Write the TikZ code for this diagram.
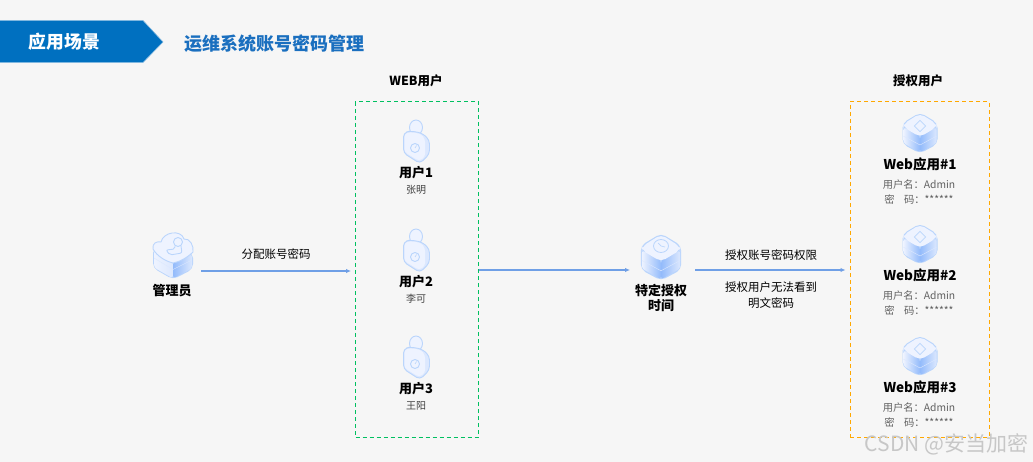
\documentclass[tikz,border=0pt]{standalone}
\usepackage{fontspec}
\usepackage{xcolor}
\setmainfont{Noto Sans CJK SC}
\usetikzlibrary{arrows.meta}

\definecolor{bannerblue}{HTML}{0070C0}
\definecolor{titleblue}{HTML}{1A6FBF}
\definecolor{iconedge}{HTML}{BAD5FC}
\definecolor{iconlight}{HTML}{EEF3FF}
\definecolor{iconmid}{HTML}{DCE8FE}
\definecolor{icondeep}{HTML}{93BBFB}
\definecolor{linkblue}{HTML}{6F9FE6}
\definecolor{webgreen}{HTML}{00C060}
\definecolor{authorange}{HTML}{FFA800}

\tikzset{
  link/.style={draw=linkblue, line width=1.1pt, -{Latex[length=5pt,width=4.5pt]}},
  framebox/.style={dash pattern=on 4pt off 3pt, line width=1pt, minimum width=123pt, minimum height=335pt, inner sep=0pt},
  heading/.style={font=\fontsize{12.5}{15}\selectfont\bfseries, text=black},
  itemname/.style={font=\fontsize{13}{15.5}\selectfont\bfseries, text=black, align=center},
  itemnote/.style={font=\fontsize{10}{12}\selectfont, text=black!75},
  linktext/.style={font=\fontsize{11.5}{16}\selectfont, text=black, align=center},
  appnote/.style={font=\fontsize{10.3}{12}\selectfont, text=black!62},
  userbody/.pic={
    \fill[iconlight, draw=iconedge, line width=0.9pt] (0,-15.5) ellipse (6.5 and 7.5);
    \fill[iconmid, draw=iconedge, line width=0.9pt, rounded corners=4pt]
      (-12.5,-10) -- (-6,-12) -- (6,-10) -- (13.5,-3) -- (13.5,11) -- (4,20.5) -- (-12.5,10) -- cycle;
    \fill[iconlight, rounded corners=3pt]
      (-11.5,-9) -- (-6,-11) -- (5,-9) -- (9,-4) -- (9,14) -- (3,18) -- (-11.5,9) -- cycle;
    \draw[iconedge, line width=0.9pt] (-1,5) circle (4.5);
    \draw[iconedge, line width=0.6pt] (-1,5) -- (0.5,2.5);
  },
  cubebody/.pic={
    \fill[iconedge, rounded corners=5pt] (0,-20.5) -- (17.5,-10) -- (17.5,11) -- (0,20.5) -- (-17.5,11) -- (-17.5,-10) -- cycle;
    \shade[left color=iconlight, right color=icondeep, rounded corners=3pt] (-16.7,-6) -- (0,3) -- (0,19.5) -- (-16.7,10) -- cycle;
    \shade[left color=icondeep, right color=iconmid, rounded corners=3pt] (0,3) -- (16.7,-6) -- (16.7,10) -- (0,19.5) -- cycle;
    \fill[iconlight, rounded corners=5pt] (0,-19.5) -- (16.7,-9) -- (16.7,-6) -- (0,4) -- (-16.7,-6) -- (-16.7,-9) -- cycle;
    \draw[iconmid, line width=0.4pt] (-16.7,3) -- (0,12) -- (16.7,3);
  },
  cloudbody/.pic={
    \fill[iconedge, rounded corners=5pt] (-20,-8) -- (-20,12) -- (0,23.5) -- (20,13) -- (20,-3) -- cycle;
    \shade[left color=iconlight, right color=iconmid, rounded corners=3pt] (-19,-6) -- (0,6) -- (0,22.5) -- (-19,11.5) -- cycle;
    \shade[left color=icondeep, right color=iconmid, rounded corners=3pt] (0,6) -- (19,-2) -- (19,12.5) -- (0,22.5) -- cycle;
    \draw[iconmid, line width=0.4pt] (-19,2) -- (0,13.5) -- (19,4);
    \fill[iconlight, draw=iconedge, line width=0.9pt]
      (-20,-7) .. controls (-21,-13) and (-16,-15) .. (-12,-14)
      .. controls (-10,-24) and (8,-27) .. (11,-17)
      .. controls (17,-18) and (21,-10) .. (20,-4)
      .. controls (14,2) and (6,6) .. (0,7)
      .. controls (-8,5) and (-16,0) .. (-20,-7) -- cycle;
    \draw[iconedge, line width=0.9pt] (5,-14) circle (4.5);
    \draw[iconedge, line width=0.9pt, rounded corners=2pt]
      (2,-10) -- (2,-7) -- (-7,-6) -- (-3,-1) -- (9,-3) -- (8,-10);
  },
}

\begin{document}
\begin{tikzpicture}[x=1pt, y=-1pt]
  % Background
  \fill[fill=black!3.5] (0,0) rectangle (1033,462);
  \useasboundingbox (0,0) rectangle (1033,462);

  % Banner
  \fill[bannerblue, draw=bannerblue!50!white, line width=0.6pt] (-2,20.5) -- (143,20.5) -- (163,42) -- (143,62.5) -- (-2,62.5) -- cycle;
  \node[text=white, font=\fontsize{17.8}{20}\selectfont\bfseries] (scene) at (64.5,41.5) {应用场景};
  \node[text=titleblue, font=\fontsize{18}{20}\selectfont\bfseries] (title) at (274.5,43.5) {运维系统账号密码管理};

  % Boxes
  \node[framebox, draw=webgreen] (webbox) at (417,269.5) {};
  \node[framebox, draw=authorange, minimum width=139pt] (authbox) at (919.5,269.5) {};
  \node[heading] (webhead) at (416,81) {WEB用户};
  \node[heading] (authhead) at (918,81) {授权用户};

  % Admin
  \pic at (173,256) {cloudbody};
  \node[itemname] (admin) at (172,291) {管理员};
  \coordinate (adminout) at (201,271);

  % Web users
  \foreach \i/\who/\y in {1/张明/143,2/李可/252,3/王阳/359}
  {
      \pic at (416,\y) {userbody};
      \node[itemname] (user-\i) at (416,\y+29.5) {用户\i};
      \node[itemnote] (who-\i) at (416,\y+46.5) {\who};
  }

  % Timer
  \pic[scale=1.15] at (661,257) {cubebody};
  \draw[iconedge, line width=0.8pt] (661,246) ellipse (7.5 and 6.5);
  \draw[iconedge, line width=0.7pt] (658,243) -- (661,246) -- (665,247);
  \node[itemname] (timer) at (661,298) {特定授权\\[-1pt]时间};
  \coordinate (timerin) at (630,270);
  \coordinate (timerout) at (695,270);

  % Applications
  \foreach \i/\y in {1/133,2/244,3/356}
  {
      \pic at (920,\y) {cubebody};
      \draw[iconedge, line width=0.8pt, rotate around={45:(920,\y-7)}] (916,\y-11) rectangle (924,\y-3);
      \node[itemname, font=\fontsize{13.5}{16}\selectfont\bfseries] (app-\i) at (920,\y+31) {Web应用\#\i};
      \node[appnote] (name-\i) at (919,\y+51.5) {用户名：Admin};
      \node[appnote] (pass-\i) at (919,\y+66.5) {密\hspace{0.9em}码：******};
  }

  % Connect the three stages
  \draw[link] (adminout) -- ([xshift=-4pt]webbox.west |- adminout);
  \draw[link] (webbox.east |- timerin) -- (timerin);
  \draw[link] (timerout) -- ([xshift=-4pt]authbox.west |- timerout);

  % Link labels
  \node[linktext] (assign) at (276,254) {分配账号密码};
  \node[linktext] (grant) at (771,255) {授权账号密码权限};
  \node[linktext] (hide) at (771,295.5) {授权用户无法看到\\明文密码};

  % Watermark
  \node[text=black!22, font=\fontsize{21}{24}\selectfont] (mark) at (946.5,444) {CSDN @安当加密};
\end{tikzpicture}
\end{document}
